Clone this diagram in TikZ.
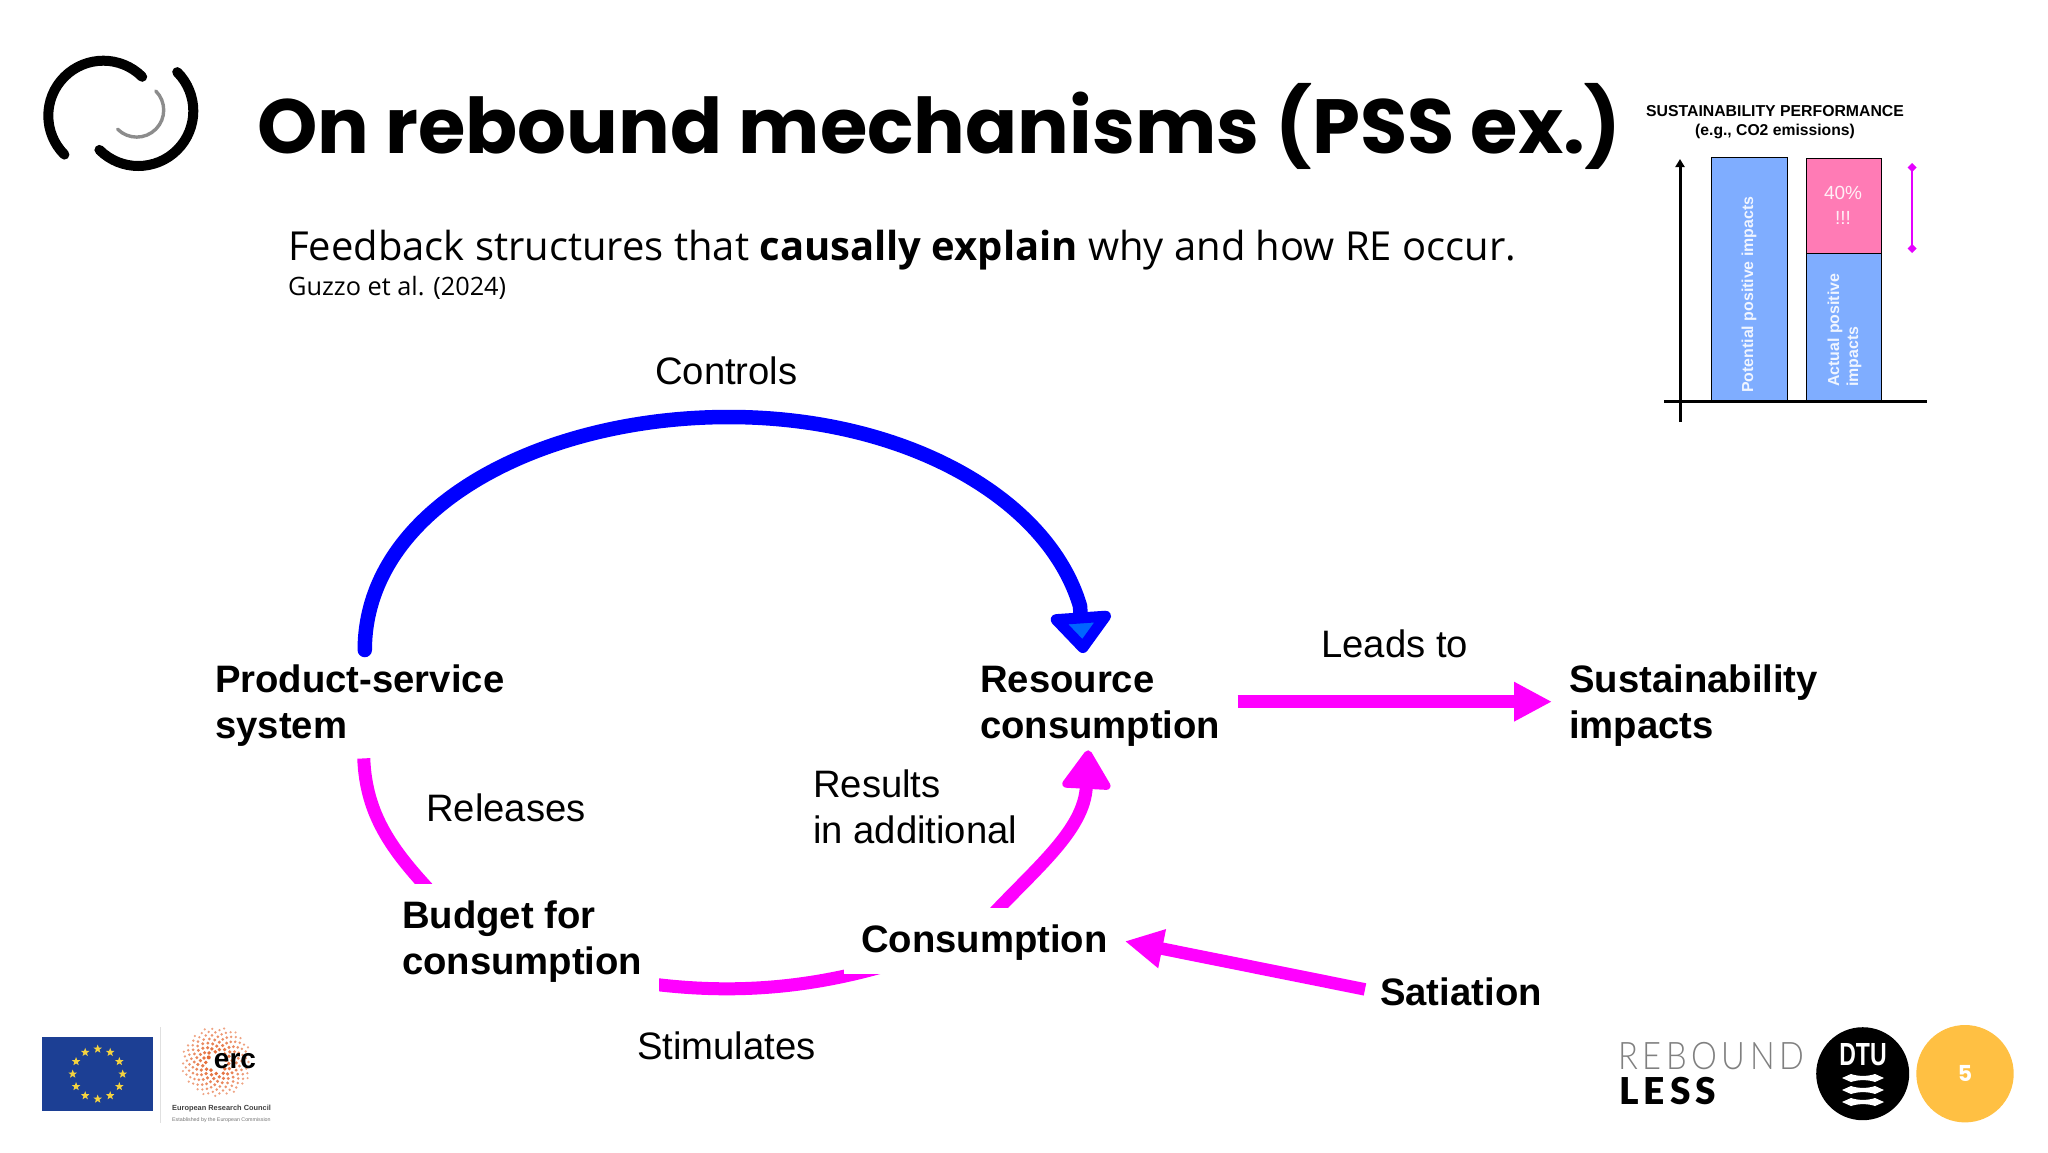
\documentclass[tikz,border=0pt]{standalone}
\usepackage{fontspec}
\setmainfont{Liberation Sans}
\newfontfamily\poppins{Poppins}
\newfontfamily\opensans{Open Sans}
\newfontfamily\lightface{Lato Light}[LetterSpace=14]
\newfontfamily\heavyface{Lato Black}[LetterSpace=14]
\usetikzlibrary{arrows.meta,backgrounds,shapes.geometric}
\definecolor{flowblue}{HTML}{0000FF}
\definecolor{flowblueinner}{HTML}{0066FF}
\definecolor{flowpink}{HTML}{FF00FF}
\definecolor{barblue}{HTML}{7FADFF}
\definecolor{barpink}{HTML}{FF7BB5}
\definecolor{eublue}{HTML}{1C3F94}
\definecolor{eustar}{HTML}{F5D33F}
\definecolor{ercorange}{HTML}{E0561A}
\definecolor{pagedot}{HTML}{FFC043}
\tikzset{
  x=1pt,y=-1pt,
  boxtext/.style={font=\fontsize{38.25}{46}\selectfont\bfseries,align=left,inner xsep=17pt,inner ysep=9pt,anchor=north west},
  masked/.style={boxtext,fill=white},
  note/.style={font=\fontsize{38.25}{46}\selectfont,align=left,inner sep=0pt,anchor=base west},
  flow/.style={flowpink,line width=13pt},
  straight/.style={flowpink,line width=12.5pt,-{Triangle[length=38pt,width=37pt]}},
  barlabel/.style={font=\fontsize{15.9}{19}\selectfont\bfseries,text=white!88!barblue,inner sep=0pt,rotate=90},
  ringarc/.style={line width=10pt,line cap=round},
  wave/.style={fill=white},
}
\newcommand{\firstline}{\rule{0pt}{35pt}}
\newcommand{\lastdepth}[1]{\rule[-#1pt]{0pt}{#1pt}}
\begin{document}
\begin{tikzpicture}
\useasboundingbox (0,0) rectangle (2048,1152);

% logo top left
\draw[ringarc] (142.2,76.8) arc[start angle=45,end angle=225,radius=55pt];
\draw[ringarc] (177.2,72.1) arc[start angle=45,end angle=-135,radius=55pt];
\draw[line width=3.4pt,line cap=round,color=black!45] (155.8,91) arc[start angle=45,end angle=-135,radius=27pt];

% headings
\node[anchor=base west,inner sep=0pt,font=\fontsize{76.8}{80}\selectfont\poppins\bfseries] (title) at (257,153) {On rebound mechanisms (PSS ex.)};
\node[anchor=base west,inner sep=0pt,font=\fontsize{39.95}{46}\selectfont\opensans] (sub) at (288,260) {Feedback structures that \textbf{causally explain} why and how RE occur.};
\node[anchor=base west,inner sep=0pt,font=\fontsize{25.3}{30}\selectfont\opensans] (cite) at (288,295) {Guzzo et al. (2024)};

% nodes of the loop
\node[masked] (psys) at (198,648) {\firstline Product-service\\system\lastdepth{11}};
\node[boxtext] (res) at (963,648) {\firstline Resource\\consumption};
\node[boxtext] (sus) at (1552,648) {\firstline Sustainability\\impacts};
\node[masked] (bud) at (385,884) {\firstline Budget for\\consumption\lastdepth{18}};
\node[masked] (cons) at (844,908) {\firstline Consumption\lastdepth{13}};
\node[boxtext] (sat) at (1363,961) {\firstline Satiation};

% connectors
\begin{scope}[on background layer]
  \draw[flow] ([xshift=4pt]psys.south) .. controls (366,815) and (392,850) .. ([shift={(46,8)}]bud.north west);
  \draw[flow] ([shift={(-12,-18)}]bud.south east) .. controls (735,995) and (815,988) .. ([shift={(56,-13)}]cons.south west);
  \draw[flow,-{Triangle[length=42pt,width=53pt,round,line width=8pt]}] ([shift={(7,8)}]cons.north) .. controls (1036,868) and (1084,830) .. ([shift={(-12,-5)}]res.south);
\end{scope}
\draw[flowblue,line width=14.5pt,line cap=round,-{Triangle[length=44pt,width=70pt,round,line width=13pt,fill=flowblueinner]}]
  ([shift={(5,2)}]psys.north) .. controls (365,508) and (540,417) .. (729,417)
  .. controls (905,417) and (1048,498) .. (1080,606) -- ([shift={(-17,5)}]res.north);
\draw[straight] (res) -- (sus);
\draw[straight] ([shift={(2,1.5)}]sat.west) -- (cons.east);

% connector texts
\node[note] (lcontrols) at (655,384) {Controls};
\node[note] (lleads) at (1321,657) {Leads to};
\node[note] (lrel) at (426,821) {Releases};
\node[note,anchor=north west] (lres) at (813,762) {\firstline Results\\in additional};
\node[note] (lstim) at (637,1059) {Stimulates};

% small chart
\node[font=\fontsize{15.8}{19}\selectfont\bfseries,inner sep=0pt,anchor=base] (ctitle) at (1775,116) {SUSTAINABILITY PERFORMANCE};
\node[font=\fontsize{15.7}{19}\selectfont\bfseries,inner sep=0pt,anchor=base] (csub) at (1775,135) {(e.g., CO2 emissions)};
\draw[line width=1pt,fill=barblue] (1711,157) rectangle (1787,401);
\draw[line width=1pt,fill=barblue] (1806,253) rectangle (1881,401);
\draw[line width=1pt,fill=barpink] (1806,158) rectangle (1881,253);
\draw[line width=3pt,-{Triangle[length=8pt,width=9pt]}] (1680,422) -- (1680,159);
\draw[line width=3pt] (1664,401) -- (1927,401);
\coordinate (rangeA) at (1912,163);
\coordinate (rangeB) at (1912,253);
\draw[flowpink!90!blue,line width=1.6pt,{Diamond[length=9pt,width=9pt]}-{Diamond[length=9pt,width=9pt]}] (rangeA) -- (rangeB);
\node[font=\fontsize{19}{22}\selectfont,text=white!88!barpink,inner sep=0pt] (pct) at (1843,193) {40\%};
\node[font=\fontsize{19}{22}\selectfont,text=white!88!barpink,inner sep=0pt] (excl) at (1843,218) {!!!};
\node[barlabel,anchor=west] (pot) at (1749,393) {Potential positive impacts};
\node[barlabel,anchor=west] (act1) at (1835,387) {Actual positive};
\node[barlabel,anchor=west] (act2) at (1854,387) {impacts};

% funder logos
\fill[eublue] (42,1037) rectangle (153,1111);
\foreach \a in {0,30,...,330}
  \node[star,star points=5,star point ratio=2.4,fill=eustar,inner sep=0pt,minimum size=9pt,name=eu\a] at ({97.7+25*cos(\a)},{1074+25*sin(\a)}) {};
\draw[color=black!12,line width=1pt] (160,1027) -- (160,1123);
\foreach \k in {12,...,175} {
  \pgfmathsetmacro\rr{2.65*sqrt(\k)}
  \pgfmathsetmacro\mm{100-48*\rr/35}
  \pgfmathsetmacro\dd{2.3-1.1*\rr/35}
  \pgfmathsetmacro\aa{10*mod(\k*13.75,36)}
  \fill[ercorange!\mm!white] ({216.7+\rr*cos(\aa)},{1062+\rr*sin(\aa)}) circle[radius=\dd pt];
}
\node[font=\fontsize{28}{30}\selectfont\bfseries,inner sep=0pt] (erc) at (235,1061) {erc};
\node[font=\fontsize{7.4}{9}\selectfont\bfseries,text=black!75,inner sep=0pt,anchor=base west] (erc1) at (172,1110) {European Research Council};
\node[font=\fontsize{5.3}{7}\selectfont,text=black!55,inner sep=0pt,anchor=base west] (erc2) at (172,1121) {Established by the European Commission};

% project logos
\node[font=\fontsize{38}{40}\selectfont\lightface,text=black!50,inner sep=0pt,anchor=base west,xscale=.86] (reb) at (1618,1069) {REBOUND};
\node[font=\fontsize{37}{40}\selectfont\heavyface,inner sep=0pt,anchor=base west] (less) at (1619,1104) {LESS};
\fill (1862.7,1073.7) circle[radius=46.5pt];
\node[font=\fontsize{32}{34}\selectfont\bfseries,text=white,inner sep=0pt,xscale=.72] (dtu) at (1863,1054.5) {DTU};
\foreach \y in {1078,1090,1102}
  \fill[wave] (1842,\y) -- (1851,{\y-4}) .. controls (1858,{\y-1.5}) and (1868,{\y-1.5}) .. (1875,{\y-4}) -- (1884,\y) -- (1875,{\y+4}) .. controls (1868,{\y+1.5}) and (1858,{\y+1.5}) .. (1851,{\y+4}) -- cycle;
\fill[pagedot] (1965,1073.7) circle[radius=48.7pt];
\node[font=\fontsize{22}{24}\selectfont\poppins\bfseries,text=white,inner sep=0pt] (pg) at (1965,1073.7) {5};
\end{tikzpicture}
\end{document}
